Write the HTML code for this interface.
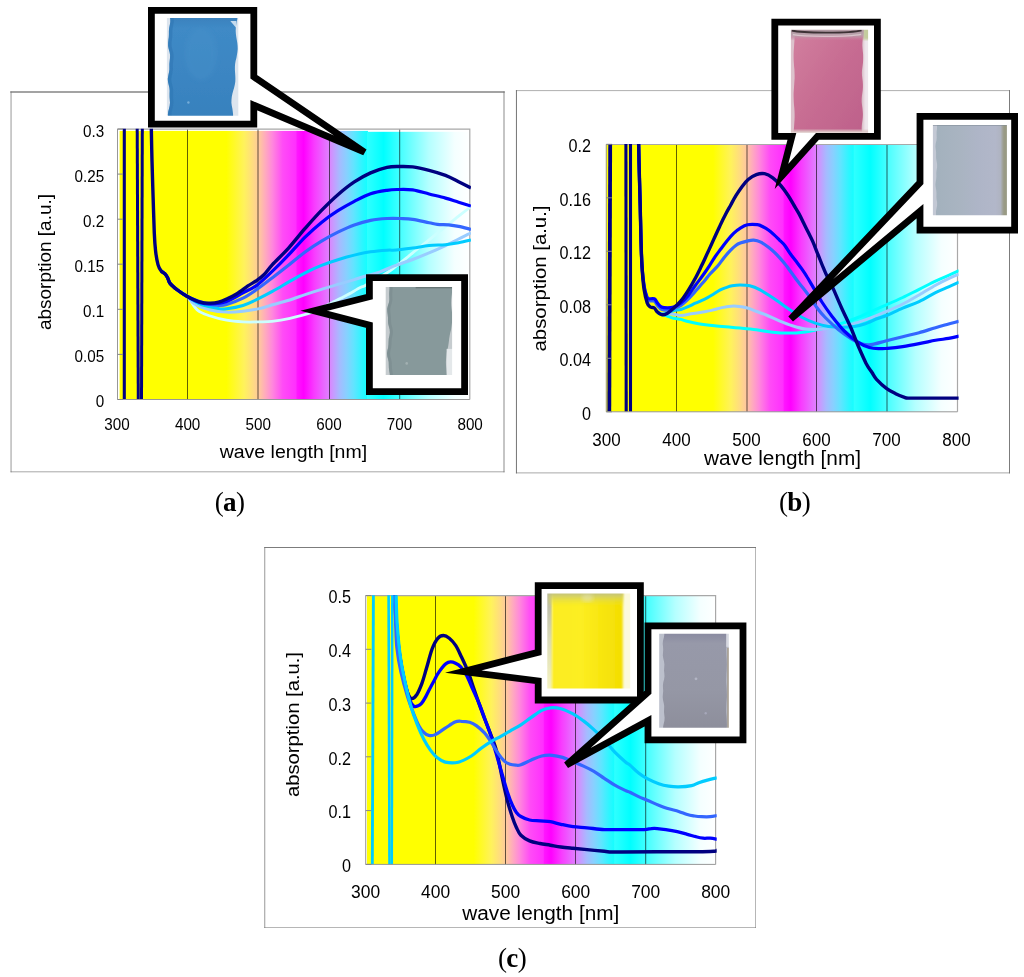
<!DOCTYPE html>
<html lang="en"><head><meta charset="utf-8"><title>Absorption spectra</title>
<style>html,body{margin:0;padding:0;background:#fff}body{width:1024px;height:977px;overflow:hidden}svg{display:block}.t{font-family:"Liberation Sans", sans-serif;fill:#000}.s{font-family:"Liberation Serif", serif;fill:#000}.c{fill:none;stroke-linejoin:round;stroke-linecap:butt}</style>
</head><body>
<svg width="1024" height="977" viewBox="0 0 1024 977">
<defs>
<linearGradient id="g1" x1="0" x2="1" y1="0" y2="0"><stop offset="0" stop-color="#ffff00"/><stop offset="0.60" stop-color="#ffff00"/><stop offset="0.70" stop-color="#fff25c"/><stop offset="0.748" stop-color="#ffdc80"/><stop offset="0.787" stop-color="#ffc6a0"/><stop offset="0.82" stop-color="#ffaabe"/><stop offset="0.858" stop-color="#ff88dc"/><stop offset="0.917" stop-color="#ff4cf6"/><stop offset="1" stop-color="#ff2cff"/></linearGradient>
<linearGradient id="g2" x1="0" x2="1" y1="0" y2="0"><stop offset="0" stop-color="#ff18ff"/><stop offset="0.10" stop-color="#ff00ff"/><stop offset="0.25" stop-color="#f83cff"/><stop offset="0.45" stop-color="#e07fff"/><stop offset="0.52" stop-color="#c69cff"/><stop offset="0.60" stop-color="#a6baff"/><stop offset="0.70" stop-color="#88d0ff"/><stop offset="0.80" stop-color="#62e4ff"/><stop offset="0.92" stop-color="#2cf6ff"/><stop offset="1" stop-color="#10ffff"/></linearGradient>
<linearGradient id="g3" x1="0" x2="1" y1="0" y2="0"><stop offset="0" stop-color="#30ffff"/><stop offset="0.16" stop-color="#00ffff"/><stop offset="0.35" stop-color="#50ffff"/><stop offset="0.6" stop-color="#b4ffff"/><stop offset="0.85" stop-color="#f4ffff"/><stop offset="1" stop-color="#ffffff"/></linearGradient>
<filter id="bl" x="-10%" y="-10%" width="120%" height="120%"><feGaussianBlur stdDeviation="0.7"/></filter>
<filter id="bl3" x="-10%" y="-10%" width="120%" height="120%"><feGaussianBlur stdDeviation="2.2"/></filter>
<filter id="bl2" x="-10%" y="-10%" width="120%" height="120%"><feGaussianBlur stdDeviation="1.3"/></filter>
<linearGradient id="pg-blue" x1="0" x2="0" y1="0" y2="1"><stop offset="0" stop-color="#3a80bc"/><stop offset="0.12" stop-color="#3f8ac6"/><stop offset="0.6" stop-color="#3b85c2"/><stop offset="1" stop-color="#3781bd"/></linearGradient>
<linearGradient id="pg-pink" x1="0" x2="1" y1="0" y2="1"><stop offset="0" stop-color="#d2809f"/><stop offset="0.45" stop-color="#c86e93"/><stop offset="1" stop-color="#bd608a"/></linearGradient>
<linearGradient id="pg-pt" x1="0" x2="0" y1="0" y2="1"><stop offset="0" stop-color="#ad979f"/><stop offset="0.5" stop-color="#b9a1ab"/><stop offset="0.72" stop-color="#c390a6" stop-opacity="0.75"/><stop offset="1" stop-color="#cc7a9c" stop-opacity="0"/></linearGradient>
<linearGradient id="pg-lgray" x1="0" x2="1" y1="0" y2="0"><stop offset="0" stop-color="#a3b1bd"/><stop offset="0.35" stop-color="#a9b4c1"/><stop offset="0.6" stop-color="#aeb5c7"/><stop offset="0.85" stop-color="#b2b7c9"/><stop offset="1" stop-color="#abafb7"/></linearGradient>
<linearGradient id="pg-yellow" x1="0" x2="1" y1="0" y2="0"><stop offset="0" stop-color="#fcec20"/><stop offset="0.4" stop-color="#fdee24"/><stop offset="0.75" stop-color="#f7e40a"/><stop offset="1" stop-color="#f3de04"/></linearGradient>
<linearGradient id="pg-yl" x1="0" x2="0" y1="0" y2="1"><stop offset="0" stop-color="#b4b4a4"/><stop offset="0.5" stop-color="#dcdcb8"/><stop offset="1" stop-color="#f6f4c0"/></linearGradient>
<linearGradient id="pg-yt" x1="0" x2="0" y1="0" y2="1"><stop offset="0" stop-color="#b8b88c"/><stop offset="0.35" stop-color="#d0cf70" stop-opacity="0.8"/><stop offset="1" stop-color="#f0e830" stop-opacity="0"/></linearGradient>
<linearGradient id="pg-dgray" x1="0" x2="0" y1="0" y2="1"><stop offset="0" stop-color="#88889f"/><stop offset="0.12" stop-color="#9799a9"/><stop offset="0.6" stop-color="#9597a5"/><stop offset="1" stop-color="#8d8e9b"/></linearGradient>
</defs>
<rect width="1024" height="977" fill="#fff"/>
<g id="panel-a">
<rect x="11.1" y="92" width="492.9" height="379.8" fill="#fff"/>
<line x1="11.05" y1="92" x2="11.05" y2="471.8" stroke="#6e6e6e" stroke-opacity="0.7" stroke-width="1" stroke-linecap="square"/>
<line x1="11.05" y1="92" x2="504" y2="92" stroke="#6e6e6e" stroke-opacity="0.85" stroke-width="1.5" stroke-linecap="square"/>
<line x1="504" y1="92" x2="504" y2="471.8" stroke="#6e6e6e" stroke-opacity="0.8" stroke-width="1" stroke-linecap="square"/>
<line x1="11.05" y1="471.8" x2="504" y2="471.8" stroke="#6e6e6e" stroke-opacity="0.6" stroke-width="1" stroke-linecap="square"/>
<rect x="119.6" y="130.9" width="177.9" height="268.6" fill="url(#g1)"/>
<rect x="296.5" y="130.9" width="71.5" height="268.6" fill="url(#g2)"/>
<rect x="367" y="131.8" width="103.1" height="267.7" fill="url(#g3)"/>
<line x1="187.5" y1="129" x2="187.5" y2="399.5" stroke="#000" stroke-opacity="0.62" stroke-width="1"/>
<line x1="258" y1="129" x2="258" y2="399.5" stroke="#000" stroke-opacity="0.62" stroke-width="1"/>
<line x1="329.5" y1="129" x2="329.5" y2="399.5" stroke="#000" stroke-opacity="0.62" stroke-width="1"/>
<line x1="399.7" y1="129" x2="399.7" y2="399.5" stroke="#000" stroke-opacity="0.62" stroke-width="1"/>
<path d="M117.5 129.2H469.8V399.5" fill="none" stroke="#a8a8a8" stroke-width="1.2"/>
<clipPath id="cp-a"><rect x="117" y="128.8" width="353.9" height="270.7"/></clipPath>
<g clip-path="url(#cp-a)" class="c">
<path d="M161.2 271C161.8 271.5 163.8 272.7 164.9 273.8C166 274.9 166.6 275.9 167.5 277.5C168.4 279.1 168.4 281.3 170.1 283.4C171.8 285.5 174.6 287.8 177.5 290C180.4 292.2 184 293.2 187.3 296.5C190.6 299.8 193.4 306.8 197.2 310C201 313.2 205.4 314.3 210.3 316C215.2 317.7 221.2 319.2 226.6 320.2C232 321.2 237.5 321.6 243 321.9C248.5 322.2 254.6 322 259.4 321.9C264.2 321.8 266.9 322 272 321.4C277.1 320.8 283.8 319.7 290 318.3C296.2 316.9 304.5 314.8 309.5 313.2C314.5 311.6 316.2 310.4 320 308.6C323.8 306.9 327.6 304.9 332 302.7C336.4 300.5 341.4 298.1 346.1 295.6C350.8 293.1 357 289.3 360.3 287.6C363.6 285.9 361.2 287.7 365.7 285.2C370.1 282.7 381.9 276 387 272.8C392.1 269.6 392.1 269.3 396.4 266C400.7 262.7 407.2 257.3 412.7 252.9C418.1 248.5 423.6 244.2 429.1 239.8C434.6 235.4 440.6 230.6 445.5 226.7C450.4 222.8 454.4 219.5 458.6 216.1C462.9 212.7 468.9 208.1 471 206.5" stroke="#ccffff" stroke-width="2.8"/>
<path d="M161.2 271C161.8 271.5 163.8 272.7 164.9 273.8C166 274.9 166.6 275.9 167.5 277.5C168.4 279.1 168.4 281.3 170.1 283.4C171.8 285.5 174.6 287.8 177.5 290C180.4 292.2 184.6 294.2 187.3 296.5C190 298.8 190.1 301.2 193.9 303.5C197.7 305.8 204.9 308.6 210.3 310C215.8 311.4 221.2 311.9 226.6 312.1C232 312.3 237.5 311.8 243 311.2C248.5 310.6 254.5 309.7 259.4 308.6C264.3 307.5 267.5 306.2 272.4 304.8C277.3 303.4 283.4 301.9 288.8 300.2C294.2 298.5 299.7 296.4 305.1 294.6C310.6 292.8 316 291.1 321.5 289.4C327 287.7 332.4 286 337.9 284.4C343.4 282.8 349.7 281 354.3 279.6C358.9 278.2 361.4 277.3 365.7 276C370 274.7 374.9 273.6 380 271.8C385.1 270 390.9 267.2 396.4 265.2C401.8 263.1 407.2 261.6 412.7 259.5C418.1 257.4 423.6 255.2 429.1 252.9C434.6 250.6 440.6 247.9 445.5 245.6C450.4 243.3 454.4 241.1 458.6 239C462.9 236.9 468.9 233.8 471 232.8" stroke="#99ccff" stroke-width="3"/>
<path d="M161.2 271C161.8 271.5 163.8 272.7 164.9 273.8C166 274.9 166.6 275.9 167.5 277.5C168.4 279.1 168.4 281.3 170.1 283.4C171.8 285.5 174.6 287.8 177.5 290C180.4 292.2 184.4 294.6 187.3 296.5C190.2 298.4 192.5 300.1 195 301.5C197.5 302.9 198.2 303.6 202.1 304.8C206 306 214.4 307.9 218.5 308.6C222.6 309.3 222.5 309.3 226.6 308.8C230.7 308.3 238.1 307 243 305.5C247.9 304 251.1 302.2 256 299.9C260.9 297.5 266.9 294.4 272.4 291.4C277.9 288.4 283.4 285 288.8 281.9C294.2 278.8 299.7 275.6 305.1 272.8C310.6 270.1 316 267.6 321.5 265.4C327 263.2 332.4 261.4 337.9 259.7C343.4 258 348.9 256.4 354.3 255.1C359.8 253.8 365.2 252.6 370.6 251.8C376.1 251 382.7 250.5 387 250.2C391.3 249.9 392.1 250.4 396.4 250C400.7 249.6 407.2 248.7 412.7 248C418.1 247.3 423.6 246.2 429.1 245.6C434.6 245 440.6 245.2 445.5 244.7C450.4 244.2 454.4 243.6 458.6 242.8C462.9 242 468.9 240.5 471 240" stroke="#00ccff" stroke-width="3"/>
<path d="M161.2 271C161.8 271.5 163.8 272.7 164.9 273.8C166 274.9 166.6 275.9 167.5 277.5C168.4 279.1 168.4 281.3 170.1 283.4C171.8 285.5 174.6 287.8 177.5 290C180.4 292.2 183.9 294.7 187.3 296.5C190.7 298.3 194.2 299.7 198 301C201.8 302.3 206.9 303.8 210.3 304.5C213.7 305.2 215.8 305.3 218.5 305.3C221.2 305.3 222.5 305.7 226.6 304.5C230.7 303.3 238.1 300.5 243 298.1C247.9 295.7 251.1 293.4 256 290C260.9 286.6 266.9 281.9 272.4 277.7C277.9 273.5 283.4 269.3 288.8 265C294.2 260.7 299.7 256 305.1 252C310.6 248 316 244.4 321.5 241.1C327 237.8 332.4 234.8 337.9 232.1C343.4 229.4 348.9 226.8 354.3 224.9C359.8 223 365.2 221.5 370.6 220.4C376.1 219.3 382.1 218.8 387 218.5C391.9 218.2 395.8 218.3 400.1 218.5C404.4 218.7 407.9 218.7 412.7 219.4C417.5 220.1 425 221.9 429.1 222.7C433.2 223.5 434 224 437.3 224.3C440.6 224.7 445.1 224.5 448.7 224.8C452.2 225.2 454.9 225.6 458.6 226.4C462.3 227.2 468.9 228.9 471 229.4" stroke="#3366ff" stroke-width="3.2"/>
<path d="M161.2 271C161.8 271.5 163.8 272.7 164.9 273.8C166 274.9 166.6 275.9 167.5 277.5C168.4 279.1 168.4 281.3 170.1 283.4C171.8 285.5 174.6 287.8 177.5 290C180.4 292.2 183.5 294.4 187.3 296.5C191.1 298.6 196.6 301.4 200.4 302.6C204.2 303.8 205.9 304.1 210.3 303.9C214.7 303.7 221.2 303.2 226.6 301.4C232 299.5 238.1 295.4 243 292.8C247.9 290.2 251.1 289.5 256 285.9C260.9 282.3 266.9 276.4 272.4 271.2C277.9 266 283.4 260.4 288.8 254.7C294.2 249 299.7 242.5 305.1 237.1C310.6 231.7 316 226.8 321.5 222.4C327 218 332.4 214.2 337.9 210.7C343.4 207.2 348.9 204.1 354.3 201.3C359.8 198.5 365.2 195.5 370.6 193.7C376.1 191.9 382.4 191 387 190.3C391.6 189.6 393.7 189.6 398 189.5C402.3 189.4 407.5 189.2 412.7 189.9C417.9 190.7 423.6 192.6 429.1 194C434.6 195.4 440.6 196.7 445.5 198.1C450.4 199.5 454.4 200.9 458.6 202.2C462.9 203.5 468.9 205.4 471 206.1" stroke="#0000ff" stroke-width="3.2"/>
<path d="M151.3 128C151.4 133.5 151.7 149.5 152 161C152.3 172.5 152.7 185 153.1 197C153.5 209 153.9 224.1 154.3 233.1C154.7 242.1 155 245.8 155.6 251.1C156.2 256.4 157.1 261.3 158 264.6C158.9 267.9 160 269.5 161.2 271C162.3 272.5 163.8 272.7 164.9 273.8C166 274.9 166.6 275.9 167.5 277.5C168.4 279.1 168.4 281.3 170.1 283.4C171.8 285.5 174.6 287.8 177.5 290C180.4 292.2 183.5 294.5 187.3 296.5C191.1 298.5 196.6 301.1 200.4 302.2C204.2 303.3 207.3 303.1 210.3 303.1C213.3 303.1 215.8 302.9 218.5 302.2C221.2 301.5 223.6 300.4 226.6 299C229.6 297.6 232.9 296.2 236.5 294C240.1 291.8 244.7 288.1 247.9 285.9C251.2 283.7 253.3 282.9 256 281C258.7 279.1 261.5 277.2 264.2 274.5C266.9 271.8 268.3 269.1 272.4 264.6C276.5 260.2 283.4 253.8 288.8 247.8C294.2 241.8 299.7 234.6 305.1 228.4C310.6 222.2 316 216 321.5 210.4C327 204.8 332.4 199.4 337.9 194.7C343.4 189.9 348.9 185.5 354.3 181.9C359.8 178.3 365.2 175.3 370.6 172.9C376.1 170.5 382.2 168.5 387 167.4C391.8 166.3 395.3 166.6 399.6 166.5C403.9 166.4 407.8 166.3 412.7 166.9C417.6 167.5 423.6 168.9 429.1 170.3C434.6 171.7 440.6 173.5 445.5 175.4C450.4 177.3 454.4 179.6 458.6 181.7C462.9 183.8 468.9 186.9 471 188" stroke="#000080" stroke-width="3.4"/>
<path d="M124.3 128 L124.3 401" stroke="#000080" stroke-width="3.1"/>
<path d="M137.2 128 L138.3 401" stroke="#000080" stroke-width="3"/>
<path d="M142.3 128 L141.5 401" stroke="#000080" stroke-width="3"/>
</g>
<path d="M117.5 129V399.5H469.8" fill="none" stroke="#989898" stroke-width="1"/>
<line x1="117.5" y1="129" x2="123.1" y2="129" stroke="#868686" stroke-width="1"/>
<text class="t" transform="translate(104.1 136.6) scale(0.89 1)" font-size="17.1" text-anchor="end">0.3</text>
<line x1="117.5" y1="174.1" x2="123.1" y2="174.1" stroke="#868686" stroke-width="1"/>
<text class="t" transform="translate(104.1 181.7) scale(0.89 1)" font-size="17.1" text-anchor="end">0.25</text>
<line x1="117.5" y1="219.2" x2="123.1" y2="219.2" stroke="#868686" stroke-width="1"/>
<text class="t" transform="translate(104.1 226.8) scale(0.89 1)" font-size="17.1" text-anchor="end">0.2</text>
<line x1="117.5" y1="264.2" x2="123.1" y2="264.2" stroke="#868686" stroke-width="1"/>
<text class="t" transform="translate(104.1 271.8) scale(0.89 1)" font-size="17.1" text-anchor="end">0.15</text>
<line x1="117.5" y1="309.3" x2="123.1" y2="309.3" stroke="#868686" stroke-width="1"/>
<text class="t" transform="translate(104.1 316.9) scale(0.89 1)" font-size="17.1" text-anchor="end">0.1</text>
<line x1="117.5" y1="354.4" x2="123.1" y2="354.4" stroke="#868686" stroke-width="1"/>
<text class="t" transform="translate(104.1 362) scale(0.89 1)" font-size="17.1" text-anchor="end">0.05</text>
<line x1="117.5" y1="399.5" x2="123.1" y2="399.5" stroke="#868686" stroke-width="1"/>
<text class="t" transform="translate(104.1 407.1) scale(0.89 1)" font-size="17.1" text-anchor="end">0</text>
<text class="t" transform="translate(117 430) scale(0.89 1)" font-size="17.1" text-anchor="middle">300</text>
<text class="t" transform="translate(187.6 430) scale(0.89 1)" font-size="17.1" text-anchor="middle">400</text>
<text class="t" transform="translate(258.2 430) scale(0.89 1)" font-size="17.1" text-anchor="middle">500</text>
<text class="t" transform="translate(328.9 430) scale(0.89 1)" font-size="17.1" text-anchor="middle">600</text>
<text class="t" transform="translate(399.5 430) scale(0.89 1)" font-size="17.1" text-anchor="middle">700</text>
<text class="t" transform="translate(470.1 430) scale(0.89 1)" font-size="17.1" text-anchor="middle">800</text>
<text class="t" x="293.4" y="458.2" font-size="18" text-anchor="middle" textLength="147.5" lengthAdjust="spacingAndGlyphs">wave length [nm]</text>
<text class="t" transform="translate(50.5 262) rotate(-90)" font-size="17.5" text-anchor="middle" textLength="136" lengthAdjust="spacingAndGlyphs">absorption [a.u.]</text>
</g>
<g id="panel-b">
<rect x="516.5" y="90.6" width="493" height="382.3" fill="#fff"/>
<line x1="516.45" y1="90.6" x2="516.45" y2="472.9" stroke="#6e6e6e" stroke-opacity="0.95" stroke-width="1" stroke-linecap="square"/>
<line x1="516.45" y1="90.6" x2="1009.5" y2="90.6" stroke="#6e6e6e" stroke-opacity="0.55" stroke-width="1" stroke-linecap="square"/>
<line x1="1009.5" y1="90.6" x2="1009.5" y2="472.9" stroke="#6e6e6e" stroke-opacity="0.9" stroke-width="1" stroke-linecap="square"/>
<line x1="516.45" y1="472.9" x2="1009.5" y2="472.9" stroke="#6e6e6e" stroke-opacity="0.6" stroke-width="1" stroke-linecap="square"/>
<rect x="605.9" y="144.3" width="178.7" height="267.5" fill="url(#g1)"/>
<rect x="783.6" y="144.3" width="71.1" height="267.5" fill="url(#g2)"/>
<rect x="853.7" y="144.3" width="102.8" height="267.5" fill="url(#g3)"/>
<line x1="676.5" y1="144.3" x2="676.5" y2="411.8" stroke="#000" stroke-opacity="0.62" stroke-width="1"/>
<line x1="747" y1="144.3" x2="747" y2="411.8" stroke="#000" stroke-opacity="0.62" stroke-width="1"/>
<line x1="816.5" y1="144.3" x2="816.5" y2="411.8" stroke="#000" stroke-opacity="0.62" stroke-width="1"/>
<line x1="887" y1="144.3" x2="887" y2="411.8" stroke="#000" stroke-opacity="0.62" stroke-width="1"/>
<path d="M606.3 144.5H957.5V411.8" fill="none" stroke="#a8a8a8" stroke-width="1.2"/>
<clipPath id="cp-b"><rect x="605.8" y="144.1" width="352.8" height="267.7"/></clipPath>
<g clip-path="url(#cp-b)" class="c">
<path d="M657.4 312.6C658.1 312.9 660 314 661.5 314.5C663 315 664.6 315.1 666.6 315.7C668.6 316.3 671.4 317.7 673.8 318.3C676.2 318.9 679 319 680.9 319.4C682.8 319.8 682.3 320.1 685.2 320.8C688.1 321.5 693.4 322.9 698.3 323.7C703.2 324.5 709.1 325.2 714.6 325.8C720.1 326.4 726.8 326.9 731 327.3C735.2 327.7 735.8 327.7 740 328.1C744.2 328.5 750.9 329.1 756.4 329.8C761.9 330.5 767.3 331.6 772.8 332.2C778.2 332.8 783.6 333.2 789.1 333.1C794.6 333.1 800.6 332.5 805.5 331.9C810.4 331.3 814.2 330.2 818.6 329.3C823 328.4 827.3 327.6 831.7 326.5C836.1 325.4 840.4 323.9 844.8 322.4C849.2 320.9 853.7 319.2 857.9 317.5C862.1 315.8 865.2 314.1 870 312C874.8 309.9 880.9 307.2 886.4 304.8C891.9 302.4 897.2 300.1 902.7 297.5C908.2 294.9 913.6 292 919.1 289.3C924.6 286.6 930.6 283.4 935.5 281.1C940.4 278.8 944.7 277.1 948.6 275.4C952.5 273.6 957.3 271.4 959 270.6" stroke="#00ffff" stroke-width="3"/>
<path d="M657.4 312C658.1 312.3 659.3 313.7 661.5 314C663.7 314.3 667.5 313.5 670.7 313.7C673.9 313.9 677.5 315.4 680.9 315.4C684.3 315.4 687.8 314.3 691.2 313.8C694.6 313.3 698 312.8 701.4 312.2C704.8 311.6 708.2 311.2 711.6 310.4C715 309.6 718.7 308.3 721.9 307.6C725.1 306.9 728.1 306.4 731 306.2C733.9 306 736.5 306.1 739.2 306.4C741.9 306.7 745.1 307.4 747.4 308C749.7 308.6 750 308.9 753.1 310.1C756.2 311.3 761.8 313.2 766.2 315C770.6 316.8 774.9 319 779.3 320.8C783.7 322.6 788 324.3 792.4 325.7C796.8 327.1 801.1 328.4 805.5 329C809.9 329.6 814.2 329.4 818.6 329.3C823 329.2 827.3 328.7 831.7 328.1C836.1 327.5 840.4 326.6 844.8 325.7C849.2 324.8 853.7 323.6 857.9 322.4C862.1 321.1 865.2 320 870 318.2C874.8 316.4 880.9 313.8 886.4 311.4C891.9 309 897.2 306.7 902.7 304C908.2 301.3 913.6 298.1 919.1 295C924.6 291.9 930.6 287.9 935.5 285.2C940.4 282.5 944.7 280.4 948.6 278.6C952.5 276.8 957.3 274.9 959 274.2" stroke="#99ccff" stroke-width="3"/>
<path d="M657.4 311.8C658.1 312.2 659.9 313.8 661.5 314C663.1 314.2 665 313.6 667 313C669 312.4 671.5 311.2 673.8 310.6C676.1 310 678.5 310.2 680.9 309.5C683.3 308.8 685.7 307.7 688.1 306.6C690.5 305.6 693.1 304.2 695.3 303.2C697.5 302.2 699.3 301.5 701.4 300.6C703.5 299.7 705.5 298.7 707.6 297.6C709.7 296.5 711.7 295.2 713.7 294C715.7 292.8 717.8 291.2 719.8 290.1C721.8 289 724 288.3 726 287.6C728 286.9 729.8 286.2 732.1 285.8C734.4 285.4 737 285 740 285C743 285 746.5 285 749.8 285.8C753.1 286.6 755.9 287.7 759.7 289.7C763.5 291.7 767.9 294.5 772.8 297.8C777.7 301.1 784.2 306 789.1 309.3C794 312.6 797.8 315.2 802.2 317.5C806.6 319.8 810.9 321.7 815.3 323.2C819.7 324.7 824 325.8 828.4 326.5C832.8 327.2 837.1 327.3 841.5 327.3C845.9 327.3 850.8 327.1 854.6 326.5C858.4 325.9 860.7 325.3 864.5 324C868.3 322.7 874 319.9 877.6 318.5C881.2 317.1 882.2 317.2 886.4 315.5C890.6 313.8 897.2 310.4 902.7 308.1C908.2 305.8 913.6 304.2 919.1 301.6C924.6 299 930.6 295.1 935.5 292.6C940.4 290.1 944.7 288.6 948.6 286.8C952.5 285.1 957.3 282.9 959 282.1" stroke="#00ccff" stroke-width="3"/>
<path d="M638.6 143C638.7 148 639 162.4 639.3 172.8C639.6 183.2 639.9 194.2 640.2 205.5C640.5 216.8 640.7 230.4 641 240.5C641.3 250.6 641.5 258.2 642 266.1C642.5 274 643.4 282.6 644.3 288C645.2 293.4 646.6 296.4 647.4 298.5C648.2 300.6 648.1 300.4 649.2 300.9C650.4 301.3 652.8 300.3 654.3 301.2C655.8 302.1 656.6 304.6 657.9 306C659.2 307.4 660.4 308.9 662 309.6C663.6 310.3 665.5 310.4 667.6 310.1C669.7 309.8 672.6 308.8 674.8 308C677 307.2 678.9 306.6 680.9 305.4C682.9 304.2 684.8 302.2 686.6 300.6C688.4 299 690.1 297.3 691.7 295.5C693.4 293.7 695 291.7 696.5 290C698 288.3 699.2 286.8 700.6 285.2C702 283.6 703.4 282.1 705 280.2C706.6 278.3 707.9 276.4 710 274C712.1 271.6 715.6 268.4 717.9 265.7C720.2 263 721.7 260.6 723.8 258C725.9 255.4 728.3 252.5 730.4 250.4C732.5 248.3 734.3 246.5 736.1 245.2C737.9 243.9 739.2 243.5 741 242.8C742.8 242.1 744.9 241.6 747 241.1C749.1 240.6 751.4 239.9 753.7 240.1C756 240.3 758.3 240.9 760.8 242.1C763.3 243.3 766.1 245.4 768.5 247.2C770.9 249 772.9 250.8 775 252.9C777.1 255 779.3 257.4 781.3 259.6C783.3 261.8 784.9 263.9 786.8 266.3C788.6 268.7 790.5 271.4 792.4 274C794.2 276.6 796 279.2 797.9 281.6C799.8 284 801.7 286.2 803.5 288.5C805.3 290.8 806.5 292.3 808.8 295.5C811 298.7 814.3 304 817 307.7C819.7 311.4 821.7 313.9 825.2 317.5C828.8 321.1 833.9 325.9 838.3 329.5C842.7 333.1 847.6 336.4 851.4 338.8C855.2 341.2 857.9 342.7 861.2 343.7C864.5 344.7 866.8 345.2 871 344.7C875.2 344.2 881.1 342.1 886.4 340.8C891.7 339.5 897.2 338.1 902.7 336.7C908.2 335.3 913.6 334.2 919.1 332.7C924.6 331.2 930.6 329.1 935.5 327.7C940.4 326.2 944.7 325.1 948.6 324C952.5 322.9 957.3 321.8 959 321.3" stroke="#3366ff" stroke-width="3.2"/>
<path d="M638.6 143C638.7 148 639 162.4 639.3 172.8C639.6 183.2 639.9 194.2 640.2 205.5C640.5 216.8 640.7 230.4 641 240.5C641.3 250.6 641.5 258.4 642 266.1C642.5 273.9 643.5 281.9 644.3 287C645.1 292.1 646.3 295 647 297C647.7 299 647.4 298.5 648.6 298.8C649.8 299.1 652.8 298.1 654.3 298.8C655.8 299.5 656.2 301.5 657.4 302.9C658.6 304.3 659.8 306.2 661.5 307C663.2 307.8 665.6 307.8 667.6 307.8C669.6 307.8 671.6 307.8 673.8 307C676 306.2 678.5 304.8 680.9 302.9C683.3 301 685.7 298.6 688.1 295.7C690.5 292.8 692.9 288.7 695.3 285.5C697.6 282.3 699.9 279.5 702.2 276.3C704.5 273.1 707.1 269.4 709.2 266.1C711.3 262.9 713 259.7 715 256.8C717 253.9 719 251.4 721 248.7C723 246 725.2 243.1 727.3 240.5C729.4 237.9 731.5 235.3 733.6 233.3C735.7 231.3 737.7 229.7 740 228.3C742.3 226.9 744.5 225.4 747.4 224.8C750.3 224.2 754.8 224.4 757.4 224.7C760 225 761.1 225.9 762.9 226.8C764.7 227.7 766.6 228.7 768.4 230C770.2 231.3 772 232.9 773.9 234.6C775.8 236.3 777.6 238.2 779.5 240.1C781.4 241.9 783.2 243.4 785 245.7C786.8 248 788.6 251.4 790.5 254C792.4 256.6 794.2 258.9 796.1 261.3C798 263.8 799.8 266.1 801.6 268.7C803.4 271.3 805.4 274.2 807.1 277C808.9 279.8 809.6 281.2 812.1 285.4C814.6 289.6 818.6 296.9 821.9 302C825.2 307.1 827.9 311 831.7 315.9C835.5 320.8 840.4 327.1 844.8 331.5C849.2 335.9 853.8 339.4 857.9 342.1C862 344.8 865.8 346.4 869.4 347.5C873 348.6 876.2 348.6 879.2 348.7C882.2 348.8 883.5 348.6 887.4 348.3C891.3 348 897.4 347.4 902.7 346.6C908 345.8 913.6 344.7 919.1 343.6C924.6 342.6 930.6 341.2 935.5 340.3C940.4 339.4 944.7 339.1 948.6 338.4C952.5 337.7 957.3 336.5 959 336.1" stroke="#0000ff" stroke-width="3.2"/>
<path d="M638.6 143C638.7 148 639 162.4 639.3 172.8C639.6 183.2 639.9 194.2 640.2 205.5C640.5 216.8 640.7 230.4 641 240.5C641.3 250.6 641.5 257.9 642 266.1C642.5 274.3 643.2 283.5 644.1 289.6C645 295.7 646.2 300 647.2 302.9C648.2 305.8 649 306.1 650.2 307C651.4 307.9 653.1 307.1 654.3 308C655.5 308.9 656.2 311 657.4 312.1C658.6 313.2 660 314.4 661.5 314.7C663 315 664.6 314.8 666.6 313.7C668.6 312.6 671.4 310.1 673.8 308C676.2 305.9 678.5 303.8 680.9 300.9C683.3 298 685.7 294.4 688.1 290.6C690.5 286.8 693.1 282.4 695.3 278.3C697.5 274.2 699.3 270.4 701.4 266.1C703.5 261.9 705.5 257.2 707.6 252.8C709.7 248.4 711.7 243.9 713.7 239.4C715.7 234.9 717.8 230.4 719.8 226.1C721.8 221.8 724.1 217.1 726 213.5C727.9 209.9 729.4 207.5 731 204.5C732.6 201.5 734 198.8 735.9 195.7C737.8 192.6 740.5 188.7 742.5 186C744.5 183.3 745.9 181.4 748.2 179.5C750.5 177.6 753.7 175.6 756.4 174.6C759.1 173.6 761.9 173.2 764.6 173.7C767.3 174.2 770.1 175.8 772.8 177.8C775.5 179.8 778.4 182.7 780.9 185.6C783.4 188.5 785.7 191.9 787.8 195C789.9 198.1 791.5 201.1 793.3 204.2C795.1 207.3 797.1 210.3 798.8 213.4C800.5 216.5 801.9 219.5 803.4 222.6C804.9 225.7 806.5 228.7 808 231.8C809.5 234.9 811.2 238 812.6 241.1C814 244.2 815.1 247.2 816.3 250.3C817.5 253.4 818.8 256.4 820 259.5C821.2 262.6 822.6 266.1 823.7 268.7C824.8 271.3 825.1 272.2 826.5 275.1C827.9 278.1 829.7 281 832.2 286.4C834.7 291.8 838.3 300.6 841.5 307.7C844.7 314.8 848.7 322.7 851.4 329C854.1 335.3 855.4 339.6 857.9 345.3C860.4 351 863.8 358.9 866.1 363.4C868.5 367.9 870.3 369.9 872 372.5C873.7 375.1 874.1 376.7 876.5 379.3C878.9 381.9 883.1 385.9 886.4 388.3C889.7 390.8 893.3 392.5 896.2 394C899.1 395.5 902 396.5 904 397.2C906 397.9 905.7 398 908 398.1C910.3 398.2 909.5 398.1 918 398.1C926.5 398.1 952.2 398.1 959 398.1" stroke="#000080" stroke-width="3.4"/>
<path d="M610.2 143 L609.3 414" stroke="#000080" stroke-width="3.8"/>
<path d="M625.9 143 L626.2 414" stroke="#000080" stroke-width="3.1"/>
<path d="M630.5 143 L630.5 414" stroke="#000080" stroke-width="3.1"/>
</g>
<path d="M606.3 144.3V411.8H957.5" fill="none" stroke="#989898" stroke-width="1"/>
<line x1="606.3" y1="144.3" x2="611.9" y2="144.3" stroke="#868686" stroke-width="1"/>
<text class="t" transform="translate(591 152.1) scale(0.885 1)" font-size="18.3" text-anchor="end">0.2</text>
<line x1="606.3" y1="197.8" x2="611.9" y2="197.8" stroke="#868686" stroke-width="1"/>
<text class="t" transform="translate(591 205.6) scale(0.885 1)" font-size="18.3" text-anchor="end">0.16</text>
<line x1="606.3" y1="251.3" x2="611.9" y2="251.3" stroke="#868686" stroke-width="1"/>
<text class="t" transform="translate(591 259.1) scale(0.885 1)" font-size="18.3" text-anchor="end">0.12</text>
<line x1="606.3" y1="304.8" x2="611.9" y2="304.8" stroke="#868686" stroke-width="1"/>
<text class="t" transform="translate(591 312.6) scale(0.885 1)" font-size="18.3" text-anchor="end">0.08</text>
<line x1="606.3" y1="358.3" x2="611.9" y2="358.3" stroke="#868686" stroke-width="1"/>
<text class="t" transform="translate(591 366.1) scale(0.885 1)" font-size="18.3" text-anchor="end">0.04</text>
<line x1="606.3" y1="411.8" x2="611.9" y2="411.8" stroke="#868686" stroke-width="1"/>
<text class="t" transform="translate(591 419.6) scale(0.885 1)" font-size="18.3" text-anchor="end">0</text>
<text class="t" transform="translate(606.5 446) scale(0.93 1)" font-size="18.3" text-anchor="middle">300</text>
<text class="t" transform="translate(676.5 446) scale(0.93 1)" font-size="18.3" text-anchor="middle">400</text>
<text class="t" transform="translate(746.5 446) scale(0.93 1)" font-size="18.3" text-anchor="middle">500</text>
<text class="t" transform="translate(816.5 446) scale(0.93 1)" font-size="18.3" text-anchor="middle">600</text>
<text class="t" transform="translate(886.5 446) scale(0.93 1)" font-size="18.3" text-anchor="middle">700</text>
<text class="t" transform="translate(956.5 446) scale(0.93 1)" font-size="18.3" text-anchor="middle">800</text>
<text class="t" x="782.5" y="464.6" font-size="19.5" text-anchor="middle" textLength="157" lengthAdjust="spacingAndGlyphs">wave length [nm]</text>
<text class="t" transform="translate(546 278.5) rotate(-90)" font-size="18.5" text-anchor="middle" textLength="146" lengthAdjust="spacingAndGlyphs">absorption [a.u.]</text>
</g>
<g id="panel-c">
<rect x="264.8" y="547.5" width="490.8" height="380" fill="#fff"/>
<line x1="264.75" y1="547.5" x2="264.75" y2="927.5" stroke="#6e6e6e" stroke-opacity="0.7" stroke-width="1" stroke-linecap="square"/>
<line x1="264.75" y1="547.5" x2="755.5" y2="547.5" stroke="#6e6e6e" stroke-opacity="0.9" stroke-width="1" stroke-linecap="square"/>
<line x1="755.5" y1="547.5" x2="755.5" y2="927.5" stroke="#6e6e6e" stroke-opacity="0.5" stroke-width="1" stroke-linecap="square"/>
<line x1="264.75" y1="927.5" x2="755.5" y2="927.5" stroke="#6e6e6e" stroke-opacity="0.5" stroke-width="1" stroke-linecap="square"/>
<rect x="366.9" y="595.8" width="177.9" height="268.6" fill="url(#g1)"/>
<rect x="543.8" y="595.8" width="71.4" height="268.6" fill="url(#g2)"/>
<rect x="614.2" y="595.8" width="101.5" height="268.6" fill="url(#g3)"/>
<line x1="435.5" y1="595.5" x2="435.5" y2="864.4" stroke="#000" stroke-opacity="0.62" stroke-width="1"/>
<line x1="505.5" y1="595.5" x2="505.5" y2="864.4" stroke="#000" stroke-opacity="0.62" stroke-width="1"/>
<line x1="575.5" y1="595.5" x2="575.5" y2="864.4" stroke="#000" stroke-opacity="0.62" stroke-width="1"/>
<line x1="645.7" y1="595.5" x2="645.7" y2="864.4" stroke="#000" stroke-opacity="0.62" stroke-width="1"/>
<path d="M365.7 595.7H715.6V864.4" fill="none" stroke="#a8a8a8" stroke-width="1.2"/>
<clipPath id="cp-c"><rect x="365.2" y="595.3" width="351.5" height="269.1"/></clipPath>
<g clip-path="url(#cp-c)" class="c">
<path d="M394.6 594C394.9 598.8 395.4 612.5 396.2 622.8C397 633 398.2 645.7 399.6 655.5C401 665.3 403 675.1 404.5 681.7C406 688.3 407.2 692.2 408.5 695C409.8 697.8 410.6 698.7 412 698.6C413.4 698.5 415.2 697 416.9 694.5C418.5 692 420.3 687.7 421.9 683.4C423.5 679.1 424.7 674.3 426.4 668.6C428.1 662.9 430.2 654 432.1 649C434 644 435.9 640.5 437.8 638.3C439.7 636 441.6 635.5 443.5 635.5C445.4 635.5 447.2 636.6 449.3 638.3C451.4 640 453.8 642.6 455.8 645.7C457.8 648.8 459.4 652.7 461.5 657.1C463.6 661.5 466 666.6 468.1 671.9C470.2 677.2 472 683.3 473.9 688.8C475.8 694.2 477.5 699.2 479.4 704.6C481.3 710 483.4 715.5 485.5 721C487.6 726.5 490 732.2 491.9 737.4C493.8 742.6 495.1 745.2 496.8 752C498.5 758.8 500.5 770 502.2 778C503.9 786 505.5 793.5 507.2 800C508.9 806.5 510.8 812.4 512.3 817C513.8 821.6 515 824.5 516.4 827.5C517.8 830.5 518.7 833 520.9 835.2C523.1 837.4 526.4 839.5 529.6 840.9C532.8 842.3 536.5 842.8 540 843.5C543.5 844.2 546.9 844.6 550.4 845.2C553.9 845.8 557.1 846.5 560.9 847C564.7 847.5 568.6 847.8 573 848.2C577.4 848.6 581.8 849.1 587 849.6C592.2 850.1 600.2 850.9 604.3 851.3C608.3 851.7 608.4 851.9 611.3 852C614.2 852.1 613.6 852 621.7 852C629.8 852 645.2 851.9 660 851.8C674.8 851.7 700.7 851.8 710.2 851.5C719.7 851.2 715.9 850.4 717 850.2" stroke="#000080" stroke-width="3.4"/>
<path d="M394.8 594C395.1 598.8 395.6 612.5 396.4 622.8C397.2 633 398.4 645.7 399.8 655.5C401.2 665.3 403 674.3 404.7 681.7C406.4 689.1 408.2 695.9 409.8 700C411.4 704.1 412.6 705.3 414 706.3C415.4 707.3 416.9 706.3 418.1 705.8C419.4 705.3 420.2 704.8 421.5 703.3C422.8 701.8 424.5 699 425.8 696.6C427.1 694.2 428.2 691.8 429.5 689.2C430.8 686.6 432.4 683.7 433.8 681.2C435.2 678.7 436.2 676.3 437.6 674.1C439 671.9 440.5 669.8 441.9 668C443.3 666.2 444.6 664.6 446 663.6C447.4 662.6 448.9 662 450.5 661.9C452.1 661.8 453.8 662.4 455.5 663.2C457.2 664 458.9 664.8 460.7 666.8C462.5 668.8 464.4 671.4 466.5 675.2C468.6 679.1 470.8 685 473 689.9C475.2 694.8 477.7 699.9 479.6 704.6C481.5 709.3 482.9 713.5 484.5 718C486.1 722.5 487.5 725.5 489.4 731.3C491.3 737.1 493.7 745.2 495.9 752.6C498.1 760 500.6 769 502.5 775.5C504.4 782 505.8 787 507.4 791.9C509 796.8 510.8 801.6 512.3 805C513.8 808.4 515 810.5 516.4 812.4C517.8 814.3 518.7 815.2 520.9 816.5C523.1 817.8 526.4 819.3 529.6 820C532.8 820.7 536.5 820.6 540 820.9C543.5 821.2 546.9 821.1 550.4 821.7C553.9 822.3 557.1 823.5 560.9 824.3C564.7 825.1 568.6 826 573 826.6C577.4 827.2 581.8 827.3 587 827.8C592.2 828.3 598.5 829.3 604.3 829.6C610.1 829.9 617.4 829.6 621.7 829.6C626 829.6 626.2 829.6 630 829.6C633.8 829.6 640.7 829.8 644.3 829.6C647.9 829.4 649.4 828.8 651.5 828.6C653.6 828.4 654.8 828.4 657.2 828.6C659.6 828.8 662.4 829.1 665.8 829.6C669.1 830.1 673.7 830.9 677.3 831.7C680.9 832.5 684.2 833.5 687.3 834.3C690.4 835.1 693.3 836.1 695.9 836.7C698.5 837.4 700.7 838 703.1 838.2C705.5 838.5 707.9 838 710.2 838.2C712.5 838.4 715.9 839.1 717 839.3" stroke="#0000ff" stroke-width="3.3"/>
<path d="M394.2 594C394.4 598.7 395.2 613.1 395.6 622C396 630.9 395.9 639 396.8 647.3C397.7 655.6 399.1 663.7 400.9 671.9C402.7 680.1 405.3 689.4 407.5 696.5C409.7 703.6 412.1 709.6 414 714.5C415.9 719.4 417.4 722.9 419 725.9C420.6 728.9 422.3 730.9 423.9 732.5C425.5 734.1 426.9 735 428.8 735.4C430.7 735.8 432.6 735.8 435.3 734.6C438 733.4 441.9 730.3 445.2 728.2C448.5 726.1 452.3 723.1 455 722C457.7 720.9 459.1 721.2 461.5 721.3C463.9 721.3 467.2 721.6 469.7 722.3C472.2 723 473.8 723.8 476.3 725.6C478.8 727.4 482.1 730.2 484.5 732.9C486.9 735.6 488.8 738.6 491 741.9C493.2 745.2 495.4 749.5 497.6 752.6C499.8 755.8 502 758.8 504.1 760.8C506.2 762.8 508 763.6 510 764.3C512 765 514.2 765.1 516 765.2C517.8 765.3 518.4 765.6 520.9 764.7C523.4 763.8 527.8 761.5 531.3 760C534.8 758.5 538.2 756.8 541.7 756C545.2 755.2 548.7 755.1 552.2 755.3C555.7 755.5 559.1 756.3 562.6 757.4C566.1 758.5 569.5 760.2 573 761.7C576.5 763.2 580 764.5 583.5 766.1C587 767.7 590.4 769.3 593.9 771.3C597.4 773.3 600.8 776 604.3 778.3C607.8 780.6 611.3 783.2 614.8 785.2C618.3 787.2 622.7 789.2 625.2 790.4C627.7 791.6 627.8 791.3 630 792.3C632.2 793.3 635.7 795.3 638.6 796.6C641.5 797.9 643.9 798.8 647.2 800.2C650.6 801.6 655.1 803.8 658.7 805.2C662.3 806.6 665.4 807.8 668.7 808.8C672 809.8 675.6 810.4 678.7 811.4C681.8 812.4 684.7 813.7 687.3 814.5C689.9 815.3 692.1 815.6 694.5 816C696.9 816.4 699 816.6 701.6 816.7C704.2 816.8 707.6 816.9 710.2 816.7C712.8 816.5 715.9 815.7 717 815.5" stroke="#3366ff" stroke-width="3.2"/>
<path d="M396.1 594C396.3 598.8 396.4 612.5 397.1 622.8C397.8 633 398.9 645.7 400.2 655.5C401.5 665.3 403.2 673.3 405 681.7C406.8 690.1 408.8 698.8 410.8 706C412.9 713.2 415.1 719.1 417.3 724.7C419.5 730.3 421.7 735.3 423.9 739.5C426.1 743.7 428.2 747.1 430.4 750.1C432.6 753.1 434.5 755.5 437 757.5C439.5 759.5 441.6 761.3 445.2 762.1C448.8 762.9 453.9 763.2 458.3 762.2C462.7 761.2 467.6 758.3 471.4 756C475.2 753.7 477.9 750.6 481.2 748.2C484.5 745.8 487.7 743.6 491 741.6C494.3 739.6 497.6 738.1 500.8 736.3C504 734.5 507 732.7 510.4 730.8C513.8 728.9 517.4 727 520.9 724.8C524.4 722.6 527.8 719.8 531.3 717.4C534.8 715 538.5 712 541.7 710.4C544.9 708.8 547.2 708.1 550.4 707.8C553.6 707.5 557.1 707.7 560.9 708.7C564.7 709.7 569.2 711.9 573 713.9C576.8 715.9 580 718.3 583.5 720.9C587 723.5 590.4 726.4 593.9 729.6C597.4 732.8 600.8 736.2 604.3 740C607.8 743.8 611.3 748.6 614.8 752.2C618.3 755.8 622.7 759.6 625.2 761.7C627.7 763.9 627.8 763.2 630 765.1C632.2 767 635.7 770.7 638.6 773C641.5 775.3 643.9 776.9 647.2 778.7C650.6 780.5 655.1 782.5 658.7 783.7C662.3 785 665.4 785.7 668.7 786.2C672 786.7 674.9 787 678.7 786.9C682.5 786.8 688.2 786.3 691.6 785.6C695 784.9 696.2 783.6 698.8 782.7C701.4 781.8 704.4 780.9 707.4 780.1C710.4 779.3 715.4 778.2 717 777.8" stroke="#00ccff" stroke-width="3.2"/>
<path d="M373.4 594 L372.3 866" stroke="#00ccff" stroke-width="2.9"/>
<path d="M388.6 594 L389.5 866" stroke="#00ccff" stroke-width="2.6"/>
<path d="M392.3 594 L391.8 866" stroke="#00ccff" stroke-width="2.5"/>
</g>
<path d="M365.7 595.5V864.4H715.6" fill="none" stroke="#989898" stroke-width="1"/>
<line x1="365.7" y1="595.5" x2="371.3" y2="595.5" stroke="#868686" stroke-width="1"/>
<text class="t" transform="translate(351.1 603.2) scale(0.885 1)" font-size="18.3" text-anchor="end">0.5</text>
<line x1="365.7" y1="649.3" x2="371.3" y2="649.3" stroke="#868686" stroke-width="1"/>
<text class="t" transform="translate(351.1 657) scale(0.885 1)" font-size="18.3" text-anchor="end">0.4</text>
<line x1="365.7" y1="703.1" x2="371.3" y2="703.1" stroke="#868686" stroke-width="1"/>
<text class="t" transform="translate(351.1 710.8) scale(0.885 1)" font-size="18.3" text-anchor="end">0.3</text>
<line x1="365.7" y1="756.8" x2="371.3" y2="756.8" stroke="#868686" stroke-width="1"/>
<text class="t" transform="translate(351.1 764.6) scale(0.885 1)" font-size="18.3" text-anchor="end">0.2</text>
<line x1="365.7" y1="810.6" x2="371.3" y2="810.6" stroke="#868686" stroke-width="1"/>
<text class="t" transform="translate(351.1 818.3) scale(0.885 1)" font-size="18.3" text-anchor="end">0.1</text>
<line x1="365.7" y1="864.4" x2="371.3" y2="864.4" stroke="#868686" stroke-width="1"/>
<text class="t" transform="translate(351.1 872.1) scale(0.885 1)" font-size="18.3" text-anchor="end">0</text>
<text class="t" transform="translate(365.6 898) scale(0.97 1)" font-size="18" text-anchor="middle">300</text>
<text class="t" transform="translate(435.6 898) scale(0.97 1)" font-size="18" text-anchor="middle">400</text>
<text class="t" transform="translate(505.6 898) scale(0.97 1)" font-size="18" text-anchor="middle">500</text>
<text class="t" transform="translate(575.7 898) scale(0.97 1)" font-size="18" text-anchor="middle">600</text>
<text class="t" transform="translate(645.7 898) scale(0.97 1)" font-size="18" text-anchor="middle">700</text>
<text class="t" transform="translate(715.7 898) scale(0.97 1)" font-size="18" text-anchor="middle">800</text>
<text class="t" x="540.8" y="919.6" font-size="19.5" text-anchor="middle" textLength="157" lengthAdjust="spacingAndGlyphs">wave length [nm]</text>
<text class="t" transform="translate(299 724.5) rotate(-90)" font-size="18" text-anchor="middle" textLength="145" lengthAdjust="spacingAndGlyphs">absorption [a.u.]</text>
</g>
<g id="callouts-a">
<path d="M151.4 10.4 L253.8 10.4 L253.8 76.8 L364.6 152.2 L253.8 105.2 L253.8 124.2 L151.4 124.2Z" fill="#fff" stroke="#000" stroke-width="6.8" stroke-linejoin="miter" stroke-miterlimit="8"/>
<clipPath id="ph1"><rect x="166.9" y="18" width="71.4" height="97.7"/></clipPath>
<g clip-path="url(#ph1)"><g filter="url(#bl)">
<rect x="164.9" y="16" width="75.4" height="101.7" fill="#dde5ee"/>
<path d="M169.6 16 L170.3 19 L170.3 22 L169.8 25 L169.2 28 L168.9 31 L168.9 33.9 L168.8 36.9 L168.4 39.9 L168.1 42.9 L168.1 45.9 L168.7 48.9 L169.6 51.9 L170.1 54.9 L170 57.9 L169.7 60.9 L169.4 63.9 L169.4 66.8 L169.4 69.8 L168.9 72.8 L168.3 75.8 L167.8 78.8 L168 81.8 L168.7 84.8 L169.4 87.8 L169.7 90.8 L169.6 93.8 L169.6 96.8 L169.8 99.8 L170 102.7 L169.7 105.7 L169 108.7 L168.2 111.7 L167.9 114.7 L168.2 117.7 L233 117.7 L233.1 114.7 L232.8 111.7 L232.4 108.7 L231.8 105.7 L231.4 102.7 L231.5 99.8 L231.8 96.8 L232.4 93.8 L233.2 90.8 L234.1 87.8 L234.8 84.8 L235.3 81.8 L235.4 78.8 L235.3 75.8 L235.1 72.8 L234.9 69.8 L234.9 66.8 L235.1 63.9 L235.6 60.9 L236.4 57.9 L236.9 54.9 L237.4 51.9 L237.7 48.9 L237.6 45.9 L237.3 42.9 L236.8 39.9 L236.3 36.9 L235.9 33.9 L235.7 31 L235.8 28 L236.2 25 L236.7 22 L237.3 19 L237.6 16Z" fill="url(#pg-blue)"/>
<path d="M169.6 16 L170.3 19 L170.3 22 L169.8 25 L169.2 28 L168.9 31 L168.9 33.9 L168.8 36.9 L168.4 39.9 L168.1 42.9 L168.1 45.9 L168.7 48.9 L169.6 51.9 L170.1 54.9 L170 57.9 L169.7 60.9 L169.4 63.9 L169.4 66.8 L169.4 69.8 L168.9 72.8 L168.3 75.8 L167.8 78.8 L168 81.8 L168.7 84.8 L169.4 87.8 L169.7 90.8 L169.6 93.8 L169.6 96.8 L169.8 99.8 L170 102.7 L169.7 105.7 L169 108.7 L168.2 111.7 L167.9 114.7 L168.2 117.7 L171.7 117.7 L171.4 114.7 L171.7 111.7 L172.5 108.7 L173.2 105.7 L173.5 102.7 L173.3 99.8 L173.1 96.8 L173.1 93.8 L173.2 90.8 L172.9 87.8 L172.2 84.8 L171.5 81.8 L171.3 78.8 L171.8 75.8 L172.4 72.8 L172.9 69.8 L172.9 66.8 L172.9 63.9 L173.2 60.9 L173.5 57.9 L173.6 54.9 L173.1 51.9 L172.2 48.9 L171.6 45.9 L171.6 42.9 L171.9 39.9 L172.3 36.9 L172.4 33.9 L172.4 31 L172.7 28 L173.3 25 L173.8 22 L173.8 19 L173.1 16Z" fill="#2e75b2" opacity="0.55"/>
<ellipse cx="200.9" cy="54" rx="16" ry="26" fill="#4a92ca" opacity="0.4" filter="url(#bl3)"/>
<path d="M230.3 21 l6 0 l0 7 z" fill="#e8f0f8" opacity="0.8"/>
<circle cx="188.4" cy="102.5" r="1.2" fill="#9cc8ea" opacity="0.6"/>
</g></g>
<path d="M369.4 277.7 L464.6 277.7 L464.6 391.6 L369.4 391.6 L369.4 325.1 L314.1 310.8 L369.4 296.7Z" fill="#fff" stroke="#000" stroke-width="6.8" stroke-linejoin="miter" stroke-miterlimit="8"/>
<clipPath id="ph2"><rect x="385.7" y="286.9" width="66.4" height="88.1"/></clipPath>
<g clip-path="url(#ph2)"><g filter="url(#bl)">
<rect x="383.7" y="284.9" width="70.4" height="92.1" fill="#c6cccf"/>
<path d="M389.2 284.9 L389.6 287.9 L389.4 290.8 L389.2 293.8 L389.3 296.8 L389.4 299.8 L388.9 302.7 L387.9 305.7 L387.2 308.7 L387.3 311.6 L387.7 314.6 L388 317.6 L388 320.6 L388.2 323.5 L388.9 326.5 L389.7 329.5 L389.9 332.4 L389.5 335.4 L388.8 338.4 L388.6 341.3 L388.5 344.3 L388.2 347.3 L387.5 350.3 L387 353.2 L387.3 356.2 L388.1 359.2 L388.7 362.1 L388.8 365.1 L388.9 368.1 L389.3 371.1 L389.8 374 L389.8 377 L447.1 377 L446.9 374 L446.6 371.1 L446.3 368.1 L446 365.1 L445.9 362.1 L446.1 359.2 L446.4 356.2 L446.7 353.2 L447.2 350.3 L448 347.3 L448.5 344.3 L448.9 341.3 L449.2 338.4 L449.7 335.4 L450.3 332.4 L451.1 329.5 L451.5 326.5 L451.9 323.5 L452.2 320.6 L452.3 317.6 L452.2 314.6 L451.9 311.6 L451.5 308.7 L451.2 305.7 L451.1 302.7 L451.2 299.8 L451.5 296.8 L451.9 293.8 L452.2 290.8 L452.3 287.9 L452.2 284.9Z" fill="#87999b"/>
<path d="M389.2 284.9 L389.6 287.9 L389.4 290.8 L389.2 293.8 L389.3 296.8 L389.4 299.8 L388.9 302.7 L387.9 305.7 L387.2 308.7 L387.3 311.6 L387.7 314.6 L388 317.6 L388 320.6 L388.2 323.5 L388.9 326.5 L389.7 329.5 L389.9 332.4 L389.5 335.4 L388.8 338.4 L388.6 341.3 L388.5 344.3 L388.2 347.3 L387.5 350.3 L387 353.2 L387.3 356.2 L388.1 359.2 L388.7 362.1 L388.8 365.1 L388.9 368.1 L389.3 371.1 L389.8 374 L389.8 377 L392.8 377 L392.8 374 L392.3 371.1 L391.9 368.1 L391.8 365.1 L391.7 362.1 L391.1 359.2 L390.3 356.2 L390 353.2 L390.5 350.3 L391.2 347.3 L391.5 344.3 L391.6 341.3 L391.8 338.4 L392.5 335.4 L392.9 332.4 L392.7 329.5 L391.9 326.5 L391.2 323.5 L391 320.6 L391 317.6 L390.7 314.6 L390.3 311.6 L390.2 308.7 L390.9 305.7 L391.9 302.7 L392.4 299.8 L392.3 296.8 L392.2 293.8 L392.4 290.8 L392.6 287.9 L392.2 284.9Z" fill="#7a8b8d" opacity="0.6"/>
<rect x="415.7" y="285.9" width="36.4" height="2.4" fill="#5e6a6a" opacity="0.8"/>
<rect x="446.6" y="348.9" width="7" height="28.1" fill="#e9ecef" opacity="0.85"/>
<circle cx="406.7" cy="363.4" r="1.3" fill="#b4c0c0" opacity="0.6"/>
</g></g>
</g>
<g id="callouts-b">
<path d="M774.8 22.1 L877.4 22.1 L877.4 136.3 L817.5 136.3 L781.5 176.4 L791.9 136.3 L774.8 136.3Z" fill="#fff" stroke="#000" stroke-width="6.8" stroke-linejoin="miter" stroke-miterlimit="8"/>
<clipPath id="ph3"><rect x="790.9" y="29.7" width="77.2" height="103.1"/></clipPath>
<g clip-path="url(#ph3)"><g filter="url(#bl)">
<rect x="788.9" y="27.7" width="81.2" height="107.1" fill="#dcc2cc"/>
<path d="M794.2 27.7 L794.4 30.7 L794.6 33.6 L794.6 36.6 L794.5 39.6 L794.3 42.6 L794.1 45.5 L793.9 48.5 L793.7 51.5 L793.6 54.5 L793.6 57.5 L793.7 60.4 L793.9 63.4 L794.1 66.4 L794.4 69.4 L794.5 72.3 L794.6 75.3 L794.6 78.3 L794.4 81.2 L794.2 84.2 L794 87.2 L793.8 90.2 L793.6 93.2 L793.6 96.1 L793.7 99.1 L793.8 102.1 L794 105.1 L794.3 108 L794.5 111 L794.6 114 L794.6 117 L794.5 119.9 L794.3 122.9 L794.1 125.9 L793.9 128.8 L793.7 131.8 L793.6 134.8 L862.2 134.8 L861.9 131.8 L861.7 128.8 L861.8 125.9 L862.1 122.9 L862.5 119.9 L862.8 117 L862.9 114 L862.7 111 L862.4 108 L862 105.1 L861.7 102.1 L861.7 99.1 L861.9 96.1 L862.3 93.2 L862.7 90.2 L862.9 87.2 L862.9 84.2 L862.7 81.2 L862.3 78.3 L862 75.3 L861.9 72.3 L862.1 69.4 L862.5 66.4 L862.9 63.4 L863.2 60.4 L863.3 57.5 L863.2 54.5 L862.8 51.5 L862.5 48.5 L862.3 45.5 L862.4 42.6 L862.7 39.6 L863.1 36.6 L863.5 33.6 L863.7 30.7 L863.6 27.7Z" fill="url(#pg-pink)"/>
<rect x="863.9" y="37.7" width="7" height="103.1" fill="#eee6ec" filter="url(#bl2)"/>
<rect x="863.1" y="26.7" width="8" height="13" fill="#c4cc9e" filter="url(#bl2)"/>
<rect x="787.9" y="130.2" width="83.2" height="6" fill="#dcc8c6" filter="url(#bl2)"/>
<rect x="789.9" y="28.7" width="73.7" height="12" fill="url(#pg-pt)"/>
<path d="M791.9 30.5 C802.9 33.3 850.1 33.3 861.6 30.3" fill="none" stroke="#3e3036" stroke-width="1.9"/>
<path d="M792.9 34.7 C804.9 36.9 848.1 36.9 861.1 34.3" fill="none" stroke="#e6d6da" stroke-width="1.2" opacity="0.7"/>
</g></g>
<path d="M920 116.3 L1014.6 116.3 L1014.6 230.2 L920 230.2 L920 211.2 L790.8 318.8 L920 182.7Z" fill="#fff" stroke="#000" stroke-width="6.8" stroke-linejoin="miter" stroke-miterlimit="8"/>
<clipPath id="ph4"><rect x="932.9" y="125" width="74" height="90.2"/></clipPath>
<g clip-path="url(#ph4)"><g filter="url(#bl)">
<rect x="930.9" y="123" width="78" height="94.2" fill="#c3c8d4"/>
<path d="M936.5 123 L937 125.9 L937 128.9 L936.6 131.8 L936.6 134.8 L936.7 137.7 L936.4 140.7 L935.7 143.6 L935.4 146.6 L935.8 149.5 L936.1 152.4 L936.1 155.4 L936.1 158.3 L936.6 161.3 L937.1 164.2 L937.1 167.2 L936.6 170.1 L936.3 173 L936.4 176 L936.2 178.9 L935.7 181.9 L935.4 184.8 L935.8 187.8 L936.3 190.7 L936.5 193.6 L936.4 196.6 L936.6 199.5 L937.1 202.5 L937.1 205.4 L936.5 208.4 L936 211.3 L936 214.3 L936.1 217.2 L1006.2 217.2 L1006.2 214.3 L1006.1 211.3 L1005.9 208.4 L1005.7 205.4 L1005.6 202.5 L1005.6 199.5 L1005.7 196.6 L1005.9 193.6 L1006.1 190.7 L1006.2 187.8 L1006.2 184.8 L1006.1 181.9 L1005.9 178.9 L1005.8 176 L1005.6 173 L1005.6 170.1 L1005.7 167.2 L1005.8 164.2 L1006 161.3 L1006.2 158.3 L1006.2 155.4 L1006.1 152.4 L1006 149.5 L1005.8 146.6 L1005.7 143.6 L1005.6 140.7 L1005.7 137.7 L1005.8 134.8 L1006 131.8 L1006.1 128.9 L1006.2 125.9 L1006.2 123Z" fill="url(#pg-lgray)"/>
<rect x="1002.3" y="122" width="7" height="96.2" fill="#999a84" filter="url(#bl2)"/>
<rect x="931.9" y="124" width="76" height="2" fill="#7f8a96" opacity="0.55"/>
</g></g>
</g>
<g id="callouts-c">
<path d="M538.2 585.6 L640.4 585.6 L640.4 700 L538.2 700 L538.2 680.9 L463.2 671.6 L538.2 652.3Z" fill="#fff" stroke="#000" stroke-width="6.8" stroke-linejoin="miter" stroke-miterlimit="8"/>
<clipPath id="ph5"><rect x="547.3" y="593.6" width="82.9" height="94.9"/></clipPath>
<g clip-path="url(#ph5)"><g filter="url(#bl)">
<rect x="545.3" y="591.6" width="86.9" height="98.9" fill="#fbf9dc"/>
<rect x="545.3" y="591.6" width="6.5" height="98.9" fill="url(#pg-yl)"/>
<rect x="551.9" y="590.6" width="70.9" height="102.9" fill="url(#pg-yellow)" filter="url(#bl2)"/>
<rect x="548.3" y="591.6" width="74.9" height="15" fill="url(#pg-yt)" filter="url(#bl2)"/>
<ellipse cx="587.3" cy="598.1" rx="6" ry="4" fill="#e8e8d8" opacity="0.45" filter="url(#bl3)"/>
</g></g>
<path d="M648 625.8 L743 625.8 L743 739.9 L648 739.9 L648 720.8 L566.4 765 L648 692.3Z" fill="#fff" stroke="#000" stroke-width="6.8" stroke-linejoin="miter" stroke-miterlimit="8"/>
<clipPath id="ph6"><rect x="659.2" y="633.8" width="69.6" height="93.9"/></clipPath>
<g clip-path="url(#ph6)"><g filter="url(#bl)">
<rect x="657.2" y="631.8" width="73.6" height="97.9" fill="#bcc0cc"/>
<path d="M664.2 631.8 L664.3 634.8 L663.8 637.7 L663 640.7 L662.7 643.7 L663 646.6 L663.2 649.6 L663 652.6 L662.8 655.5 L663.3 658.5 L664 661.5 L664.4 664.4 L664.2 667.4 L664 670.4 L664.3 673.3 L664.5 676.3 L664.1 679.3 L663.3 682.2 L662.9 685.2 L663 688.2 L663.2 691.1 L662.9 694.1 L662.7 697.1 L663 700 L663.7 703 L664.2 706 L664.1 708.9 L664 711.9 L664.3 714.9 L664.6 717.8 L664.4 720.8 L663.7 723.8 L663.1 726.7 L663.2 729.7 L726.7 729.7 L726.9 726.7 L726.9 723.8 L726.8 720.8 L726.7 717.8 L726.5 714.9 L726.3 711.9 L726.3 708.9 L726.4 706 L726.5 703 L726.7 700 L726.9 697.1 L726.9 694.1 L726.8 691.1 L726.7 688.2 L726.5 685.2 L726.3 682.2 L726.3 679.3 L726.4 676.3 L726.5 673.3 L726.7 670.4 L726.8 667.4 L726.9 664.4 L726.8 661.5 L726.7 658.5 L726.5 655.5 L726.4 652.6 L726.3 649.6 L726.4 646.6 L726.5 643.7 L726.7 640.7 L726.8 637.7 L726.9 634.8 L726.9 631.8Z" fill="url(#pg-dgray)"/>
<rect x="727.2" y="647.8" width="3" height="93.9" fill="#a59c8e"/>
<rect x="726.2" y="632.8" width="4" height="14" fill="#d6d8e0"/>
<circle cx="696" cy="678.8" r="1.4" fill="#b6b8c8" opacity="0.9"/>
<circle cx="705.7" cy="713.3" r="1.2" fill="#a8aabc" opacity="0.9"/>
</g></g>
</g>
<text class="s" x="229.5" y="510.5" font-size="27" letter-spacing="-0.6" text-anchor="middle">(<tspan font-weight="bold">a</tspan>)</text>
<text class="s" x="794.5" y="510.8" font-size="27" letter-spacing="-0.6" text-anchor="middle">(<tspan font-weight="bold">b</tspan>)</text>
<text class="s" x="512" y="966.5" font-size="27" letter-spacing="-0.6" text-anchor="middle">(<tspan font-weight="bold">c</tspan>)</text>
</svg>
</body></html>
